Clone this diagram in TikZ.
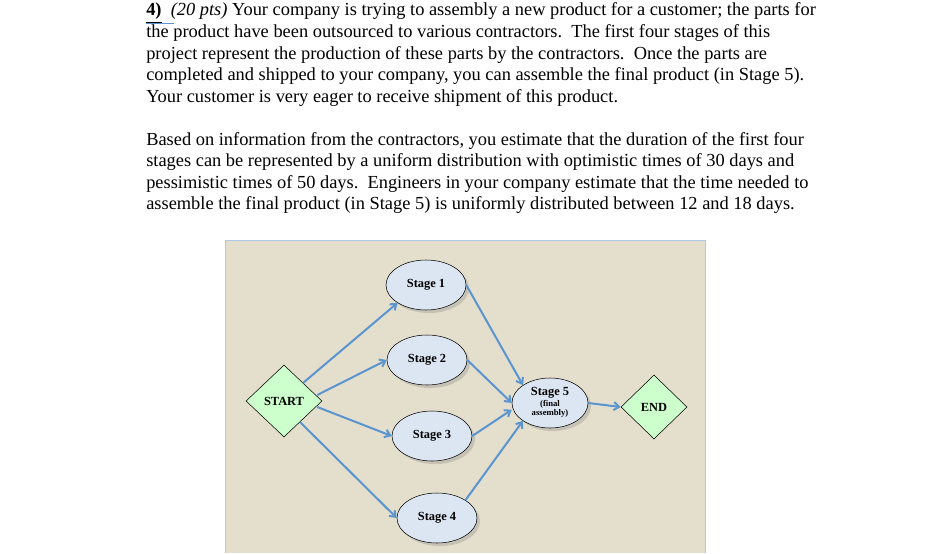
\documentclass[tikz,border=0pt]{standalone}
\usepackage{fontspec}
\setmainfont{Liberation Serif}
\usetikzlibrary{shapes.geometric,arrows.meta,shadows}
\definecolor{bg}{HTML}{E4DFCC}
\definecolor{arr}{HTML}{5B95D0}
\definecolor{ell}{HTML}{DCE6F2}
\definecolor{dia}{HTML}{CCFFCC}
\begin{document}
\begin{tikzpicture}[x=0.75pt,y=-0.75pt,
  txt/.style={anchor=base west,inner sep=0pt,font=\fontsize{13.8}{16}\selectfont},
  stg/.style={ellipse,draw=black,fill=ell,minimum width=80*0.75pt,minimum height=50*0.75pt,inner sep=0pt,font=\bfseries\fontsize{9.3}{11}\selectfont,drop shadow={opacity=0.3}},
  dmd/.style={diamond,draw=black,fill=dia,inner sep=0pt,font=\bfseries\fontsize{9.3}{11}\selectfont},
  con/.style={draw=arr,line width=1.5pt,-{Straight Barb[length=4pt,width=6pt]}}]
\useasboundingbox (0,0) rectangle (952,553);
\fill[white] (0,0) rectangle (952,553);
\node[txt] (l1) at (146,16) {\underline{\textbf{4)}}\ \ \textit{(20 pts)} Your company is trying to assembly a new product for a customer; the parts for};
\draw[arr,line width=0.5pt] (146,23) -- (174,23);
\node[txt] (l2) at (146,37.5) {the product have been outsourced to various contractors.\ \ The first four stages of this};
\node[txt] (l3) at (146,59) {project represent the production of these parts by the contractors.\ \ Once the parts are};
\node[txt] (l4) at (146,80.5) {completed and shipped to your company, you can assemble the final product (in Stage 5).};
\node[txt] (l5) at (146,102) {Your customer is very eager to receive shipment of this product.};
\node[txt] (l6) at (146,145) {Based on information from the contractors, you estimate that the duration of the first four};
\node[txt] (l7) at (146,166.5) {stages can be represented by a uniform distribution with optimistic times of 30 days and};
\node[txt] (l8) at (146,188) {pessimistic times of 50 days.\ \ Engineers in your company estimate that the time needed to};
\node[txt] (l9) at (146,209.5) {assemble the final product (in Stage 5) is uniformly distributed between 12 and 18 days.};
\fill[bg] (225,240) rectangle (705,553);
\draw[arr!50,line width=0.6pt] (225,553) -- (225,240) -- (705,240) -- (705,553);
\node[stg] (s1) at (426,285) {Stage 1};
\node[stg] (s2) at (427,360) {Stage 2};
\node[stg] (s3) at (432,436) {Stage 3};
\node[stg] (s4) at (437,518) {Stage 4};
\node[stg,minimum width=76*0.75pt] (s5) at (550,403) {\begin{tabular}{@{}c@{}}Stage 5\\[-3pt]{\fontsize{6.5}{7}\selectfont(final}\\[-4pt]{\fontsize{6.5}{7}\selectfont assembly)}\end{tabular}};
\node[dmd,minimum width=76*0.75pt,minimum height=72*0.75pt] (st) at (284,401) {START};
\node[dmd,minimum width=66*0.75pt,minimum height=64*0.75pt] (en) at (654,407) {END};
\draw[con] (st.north east) -- (s1.south west);
\draw[con] ([shift={(-5,-6)}]st.east) -- (s2.west);
\draw[con] ([shift={(-5,6)}]st.east) -- (s3.west);
\draw[con] ([shift={(-3,3)}]st.south east) -- (s4.west);
\draw[con] (s1.east) -- (s5.north west);
\draw[con] (s2.east) -- (s5.west);
\draw[con] (s3.east) -- ([yshift=-5pt]s5.west);
\draw[con] (s4.north east) -- (s5.south west);
\draw[con] (s5.east) -- (en.west);
\end{tikzpicture}
\end{document}
